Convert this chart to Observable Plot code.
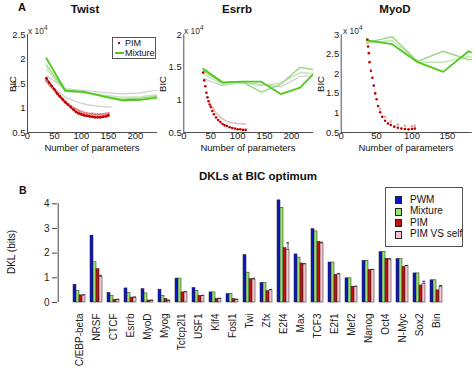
<!DOCTYPE html>
<html><head><meta charset="utf-8">
<script src="https://cdn.jsdelivr.net/npm/d3@7"></script>
<script src="https://cdn.jsdelivr.net/npm/@observablehq/plot@0.6"></script>
<style>
body{margin:0;background:#fff;}
#root{position:relative;width:474px;height:377px;overflow:hidden;font-family:'Liberation Sans',Arial,sans-serif;color:#111;}
.t{position:absolute;white-space:nowrap;line-height:1;}
.c{transform:translate(-50%,-50%);}
.r{transform:translate(-50%,-50%) rotate(-90deg);}
.holder{position:absolute;}
.holder svg{overflow:visible;}
</style></head><body><div id="root"></div>
<script>
// ---------- Panel A data ----------
const panelTitles = ["Twist", "Esrrb", "MyoD"];
const mixX = [35, 70, 105, 140, 175, 210, 245];
const twistMix1 = [2.02, 1.36, 1.33, 1.24, 1.16, 1.17, 1.22];
const twistMix2 = [1.88, 1.35, 1.32, 1.25, 1.18, 1.20, 1.25];
const twistMix3 = [1.80, 1.34, 1.32, 1.27, 1.22, 1.23, 1.28];
const twistMix4 = [1.66, 1.40, 1.36, 1.32, 1.29, 1.31, 1.38];
const twistPimX = [35,40,45,50,55,60,65,70,75,80,85,90,95,100,105,110,115,120,125,130,135,140,145,150];
const twistPim1 = [1.61,1.52,1.45,1.38,1.30,1.24,1.18,1.12,1.07,1.02,0.97,0.92,0.89,0.87,0.85,0.84,0.83,0.82,0.81,0.81,0.81,0.82,0.83,0.85];
const twistPim2 = [1.56,1.49,1.43,1.37,1.30,1.24,1.18,1.13,1.08,1.04,1.00,0.97,0.94,0.92,0.90,0.89,0.88,0.88,0.87,0.87,0.87,0.87,0.88,0.89];
const twistGrayX = [35, 50, 70, 90, 110, 130, 155];
const twistGray = [1.58, 1.40, 1.22, 1.13, 1.07, 1.04, 1.02];

const esrrbMixX = [36, 72, 108, 144, 180, 216, 252];
const esrrbMix1 = [1.48, 1.27, 1.28, 1.28, 1.09, 1.19, 1.49];
const esrrbMix2 = [1.45, 1.26, 1.28, 1.12, 1.24, 1.50, 1.45];
const esrrbMix3 = [1.40, 1.24, 1.26, 1.22, 1.26, 1.42, 1.40];
const esrrbMix4 = [1.33, 1.22, 1.27, 1.24, 1.20, 1.36, 1.38];
const esrrbPimX = [36,38,40,42,44,46,48,50,53,56,60,64,68,72,76,80,85,90,95,100,105,110,115];
const esrrbPim1 = [1.42,1.30,1.21,1.11,1.04,0.98,0.93,0.89,0.83,0.78,0.73,0.69,0.66,0.63,0.61,0.60,0.58,0.57,0.56,0.55,0.55,0.54,0.54];
const esrrbPinkX = [50, 60, 70, 80, 90, 100, 115];
const esrrbPink = [0.93, 0.80, 0.72, 0.67, 0.65, 0.64, 0.63];

const myodMixX = [36, 72, 108, 144, 180, 216];
const myodMix1 = [2.86, 2.76, 2.30, 2.05, 2.58, 2.30];
const myodMix2 = [2.80, 2.95, 2.32, 2.58, 2.36, 2.45];
const myodMix3 = [2.78, 2.86, 2.30, 2.30, 2.45, 2.25];
const myodPimX = [37,38,39,40,42,44,46,48,50,52,55,58,62,66,70,75,80,85,90,95,100,104];
const myodPim1 = [2.88,2.70,2.53,2.30,2.08,1.90,1.70,1.50,1.35,1.18,1.02,0.90,0.80,0.73,0.69,0.65,0.62,0.60,0.59,0.58,0.59,0.60];
const myodPinkX = [55, 62, 70, 80, 90, 100, 104];
const myodPink = [1.10, 0.90, 0.78, 0.70, 0.67, 0.66, 0.67];

const xTicksA = [0, 50, 100, 150, 200];
const xTicksMyod = [0, 50, 100, 150];
const yTicksTwist = [0.5, 1, 1.5, 2, 2.5];
const yTicksEsrrb = [0.5, 1, 1.5, 2];
const yTicksMyod = [0.5, 1, 1.5, 2, 2.5, 3];

// ---------- Panel B data ----------
const categories = ["C/EBP-beta","NRSF","CTCF","Esrrb","MyoD","Myog","Tcfcp2l1","USF1","Klf4","Fosl1","Twi","Zfx","E2f4","Max","TCF3","E2f1","Mef2","Nanog","Oct4","N-Myc","Sox2","Bin"];
const seriesNames = ["PWM", "Mixture", "PIM", "PIM VS self"];
const pwm     = [0.72,2.71,0.39,0.57,0.54,0.52,0.97,0.59,0.41,0.34,1.92,0.79,4.14,1.95,2.97,1.62,0.98,1.69,2.04,1.76,1.18,0.90];
const mixture = [0.46,1.63,0.27,0.38,0.37,0.27,0.97,0.46,0.41,0.34,1.21,0.79,3.84,1.82,2.88,1.62,0.98,1.69,2.04,1.76,1.18,0.90];
const pim     = [0.29,1.35,0.11,0.20,0.08,0.14,0.41,0.27,0.15,0.14,0.95,0.46,2.20,1.58,2.46,1.12,0.64,1.32,1.77,1.44,0.69,0.49];
const pimSelf = [0.29,1.03,0.11,0.20,0.08,0.08,0.41,0.27,0.15,0.11,0.93,0.49,2.12,1.55,2.39,1.14,0.63,1.31,1.74,1.47,0.76,0.63];
const selfErr = [0.02,0.07,0.02,0.02,0.01,0.01,0.03,0.02,0.02,0.02,0.05,0.04,0.30,0.02,0.05,0.03,0.03,0.03,0.03,0.03,0.10,0.06];
const yTicksB = [0, 1, 2, 3, 4];
const barColors = ["#0b16c4", "#98e46a", "#c41010", "#f6c4cc"];

const FONT = "'Liberation Sans', Arial, sans-serif";
const root = document.getElementById("root");
function txt(html, left, top, css, cls) {
  const d = document.createElement("div");
  d.className = "t " + (cls || "");
  d.innerHTML = html;
  d.style.left = left + "px"; d.style.top = top + "px";
  Object.assign(d.style, css || {});
  root.appendChild(d);
  return d;
}

const GREEN1 = "#52c81e", GREEN2 = "#9ed886", GREEN3 = "#c4e6b6", GRAY = "#cdcdcd";
const RED1 = "#c00000", RED2 = "#e07a7a";

function panel(cfg) {
  const marks = [];
  const L = (x, y, stroke, w) => Plot.line(d3.zip(x, y), {stroke, strokeWidth: w, clip: true});
  cfg.mix.forEach(([x, y, c, w]) => marks.push(L(x, y, c, w)));
  cfg.pimLines.forEach(([x, y, c, w]) => marks.push(L(x, y, c, w)));
  cfg.pimDots.forEach(([x, y, c, r]) => marks.push(Plot.dot(d3.zip(x, y), {r, fill: c, stroke: null, clip: true})));
  marks.push(
    Plot.ruleX([0], {stroke: "#222", strokeWidth: 0.8}),
    Plot.ruleY([cfg.yDomain[0]], {stroke: "#222", strokeWidth: 0.8}),
    Plot.axisX({ticks: cfg.xTicks, tickSize: 0, tickPadding: 0, label: null, tickFormat: d => String(d)}),
    Plot.axisY({ticks: cfg.yTicks, tickSize: 0, tickPadding: 2, label: null, tickFormat: d => String(d)})
  );
  const p = Plot.plot({
    width: cfg.width, height: 155,
    marginLeft: cfg.ml, marginRight: cfg.mr, marginTop: 34.3, marginBottom: 23,
    x: {domain: cfg.xDomain}, y: {domain: cfg.yDomain},
    style: {fontFamily: FONT, fontSize: "9.5px", background: "transparent", color: "#222"},
    marks
  });
  const h = document.createElement("div");
  h.className = "holder";
  h.style.left = cfg.left + "px"; h.style.top = "0px";
  h.appendChild(p);
  root.appendChild(h);
}

panel({left: 0, width: 160, ml: 27, mr: 3, xDomain: [0, 241], yDomain: [0.5, 2.5], xTicks: xTicksA, yTicks: yTicksTwist,
  mix: [[mixX, twistMix4, GRAY, 1.2], [mixX, twistMix3, GREEN3, 1.5], [mixX, twistMix2, GREEN2, 1.5], [mixX, twistMix1, GREEN1, 1.8]],
  pimLines: [[twistGrayX, twistGray, GRAY, 1.2], [twistPimX, twistPim2, "#eab0b0", 3], [twistPimX, twistPim1, RED1, 1.8]],
  pimDots: [[twistPimX, twistPim2, RED2, 1.2], [twistPimX, twistPim1, RED1, 1.3]]});
panel({left: 160, width: 155, ml: 23.3, mr: 2, xDomain: [0, 241], yDomain: [0.5, 2], xTicks: xTicksA, yTicks: yTicksEsrrb,
  mix: [[esrrbMixX, esrrbMix4, GRAY, 1.2], [esrrbMixX, esrrbMix3, GREEN3, 1.5], [esrrbMixX, esrrbMix2, GREEN2, 1.5], [esrrbMixX, esrrbMix1, GREEN1, 1.8]],
  pimLines: [[esrrbPinkX, esrrbPink, "#e8b4b4", 1.5]],
  pimDots: [[esrrbPimX, esrrbPim1, RED1, 1.3]]});
panel({left: 315, width: 159, ml: 25.7, mr: 2.3, xDomain: [0, 185], yDomain: [0.5, 3], xTicks: xTicksMyod, yTicks: yTicksMyod,
  mix: [[myodMixX, myodMix3, GREEN3, 1.5], [myodMixX, myodMix2, GREEN2, 1.5], [myodMixX, myodMix1, GREEN1, 1.8]],
  pimLines: [],
  pimDots: [[myodPinkX, myodPink, "#e8a8a8", 1.4], [myodPimX, myodPim1, RED1, 1.3]]});

// Panel A texts
txt("A", 18, 2, {fontWeight: "bold", fontSize: "11px"});
[[85, panelTitles[0]], [237, panelTitles[1]], [395, panelTitles[2]]].forEach(([x, s]) =>
  txt(s, x, 10, {fontWeight: "bold", fontSize: "11.5px"}, "c"));
[28, 184, 343].forEach(x => txt("x 10<sup style='font-size:6.5px;vertical-align:4px'>4</sup>", x, 25, {fontSize: "8.5px", color: "#333"}));
[13, 163, 321].forEach(x => txt("BIC", x, 84, {fontSize: "9.5px"}, "r"));
[92, 248, 406].forEach(x => txt("Number of parameters", x, 147.5, {fontSize: "9.5px"}, "c"));
// Twist legend
const lg = document.createElement("div");
lg.style.cssText = "position:absolute;left:112px;top:37px;width:42px;height:20px;border:1px solid #555;background:#fff;font-size:9px;";
lg.innerHTML = "<div style='position:absolute;left:5px;top:4px;width:2px;height:2px;background:" + RED1 + "'></div>" +
  "<div class='t' style='left:12px;top:1px'>PIM</div>" +
  "<div style='position:absolute;left:2px;top:14px;width:9px;height:2px;background:" + GREEN1 + "'></div>" +
  "<div class='t' style='left:12px;top:10.5px'>Mixture</div>";
root.appendChild(lg);

// ---------- Panel B ----------
const rows = categories.flatMap((c, i) => seriesNames.map((s, j) => ({
  cat: c, series: s, value: [pwm, mixture, pim, pimSelf][j][i], err: j === 3 ? selfErr[i] : 0
})));
const errRows = rows.filter(d => d.err > 0);
const bar = Plot.plot({
  width: 474, height: 207,
  marginLeft: 50, marginRight: 10, marginTop: 33.3, marginBottom: 75,
  style: {fontFamily: FONT, fontSize: "10px", background: "transparent", color: "#222"},
  fx: {domain: categories, paddingInner: 0.2, paddingOuter: 0.85},
  x: {domain: seriesNames, padding: 0, axis: null},
  y: {domain: [0, 4]},
  color: {domain: seriesNames, range: barColors},
  marks: [
    Plot.axisY({ticks: yTicksB, tickSize: 5, tickPadding: 3, dx: -15, label: null, stroke: "#444", tickFormat: d => String(d)}),
    Plot.ruleX([categories[0]], {fx: d => d, x: () => seriesNames[0], y1: 0, y2: 4, dx: -16.8, stroke: "#444"}),
    Plot.axisFx({anchor: "bottom", tickRotate: -90, tickSize: 0, tickPadding: 11, label: null}),
    Plot.barY(rows, {fx: "cat", x: "series", y: "value", fill: "series", stroke: "#222", strokeWidth: 0.5}),
    Plot.ruleX(errRows, {fx: "cat", x: "series", y1: "value", y2: d => d.value + d.err, stroke: "#222", strokeWidth: 0.8}),
    Plot.tickY(errRows, {fx: "cat", x: "series", y: d => d.value + d.err, stroke: "#222", strokeWidth: 0.8})
  ]
});
const hb = document.createElement("div");
hb.className = "holder"; hb.style.left = "0px"; hb.style.top = "170px";
hb.appendChild(bar); root.appendChild(hb);

txt("B", 19, 185, {fontWeight: "bold", fontSize: "10.5px"});
txt("DKLs at BIC optimum", 258, 177, {fontWeight: "bold", fontSize: "11.5px"}, "c");
txt("DKL (bits)", 12, 252, {fontSize: "10px"}, "r");
const lb = document.createElement("div");
lb.style.cssText = "position:absolute;left:385px;top:187px;width:76px;height:58px;border:1px solid #555;background:#fff;font-size:10px;";
lb.innerHTML = seriesNames.map((s, i) =>
  "<div style='position:absolute;left:9px;top:" + (8 + i * 11.6) + "px;width:5px;height:6px;border:0.5px solid #222;background:" + barColors[i] + "'></div>" +
  "<div class='t' style='left:24px;top:" + (6.5 + i * 11.6) + "px'>" + s + "</div>").join("");
root.appendChild(lb);
</script></body></html>
